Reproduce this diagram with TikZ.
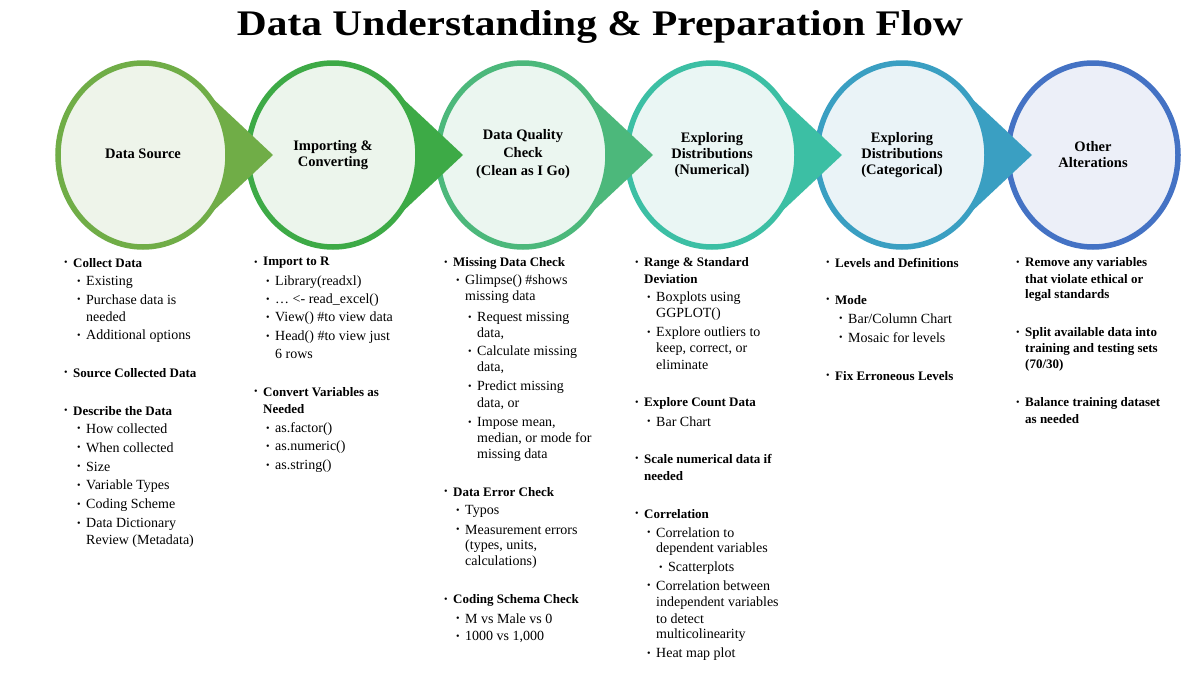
\documentclass[tikz,border=0pt]{standalone}
\usepackage{fontspec}
\setmainfont{Liberation Serif}
\definecolor{r1}{HTML}{70AD47}\definecolor{f1}{HTML}{EEF4EA}
\definecolor{r2}{HTML}{3DAA46}\definecolor{f2}{HTML}{ECF5EC}
\definecolor{r3}{HTML}{4CB87B}\definecolor{f3}{HTML}{EBF6F0}
\definecolor{r4}{HTML}{3CBFA4}\definecolor{f4}{HTML}{EAF6F4}
\definecolor{r5}{HTML}{3A9FC2}\definecolor{f5}{HTML}{EAF3F7}
\definecolor{r6}{HTML}{4472C4}\definecolor{f6}{HTML}{ECEFF8}
\newcounter{ln}
\newcommand\Bu[3]{\stepcounter{ln}\node[bul] (b\arabic{ln}) at (#1-9,#2) {•};\node[txt] (t\arabic{ln}) at (#1,#2) {#3};}
\newcommand\Cl[3]{\stepcounter{ln}\node[txt] (t\arabic{ln}) at (#1,#2) {#3};}
\newcommand\Bb[3]{\Bu{#1}{#2}{\fontsize{13}{15}\selectfont\bfseries #3}}
\newcommand\Cb[3]{\Cl{#1}{#2}{\fontsize{13}{15}\selectfont\bfseries #3}}
\newcommand\Ring[4]{\node[ring,draw=#3,fill=#4] (#1) at (#2) {};}
\newcommand\Arr[3]{\fill[#3] ($(#1)+(50,-75)$) coordinate (#2a) -- ($(#1)+(130,0)$) coordinate (#2t) -- ($(#1)+(50,75)$) coordinate (#2b) -- cycle;}
\usetikzlibrary{calc,shapes.geometric}
\begin{document}
\begin{tikzpicture}[x=1pt,y=-1pt,
  ring/.style={ellipse,minimum width=170,minimum height=184,line width=5.5pt,inner sep=0},
  txt/.style={anchor=west,font=\fontsize{14}{16}\selectfont,inner sep=0},
  bul/.style={anchor=west,font=\fontsize{10}{12}\selectfont,inner sep=0},
  head/.style={align=center,font=\fontsize{14.5}{16}\selectfont\bfseries,inner sep=0}]
\useasboundingbox (0,0) rectangle (1200,675);
\fill[white] (0,0) rectangle (1200,675);
\coordinate (p1) at (143,155);\coordinate (p2) at (333,155);\coordinate (p3) at (523,155);
\coordinate (p4) at (712,155);\coordinate (p5) at (902,155);\coordinate (p6) at (1093,155);
\node[font=\bfseries\fontsize{36}{40}\selectfont] (title) at (600,27) {\scalebox{1.15}[1]{Data Understanding \& Preparation Flow}};
\Ring{c6}{p6}{r6}{f6}
\Arr{p5}{a5}{r5}\Ring{c5}{p5}{r5}{f5}
\Arr{p4}{a4}{r4}\Ring{c4}{p4}{r4}{f4}
\Arr{p3}{a3}{r3}\Ring{c3}{p3}{r3}{f3}
\Arr{p2}{a2}{r2}\Ring{c2}{p2}{r2}{f2}
\Arr{p1}{a1}{r1}\Ring{c1}{p1}{r1}{f1}
\node[head] (h1) at (143,154) {Data Source};
\node[head] (h2) at (333,155) {Importing \&\\Converting};
\node[head,font=\fontsize{14.5}{18}\selectfont\bfseries] (h3) at (523,154) {Data Quality\\Check\\(Clean as I Go)};
\node[head] (h4) at (712,155) {Exploring\\Distributions\\(Numerical)};
\node[head] (h5) at (902,155) {Exploring\\Distributions\\(Categorical)};
\node[head] (h6) at (1093,155) {Other\\Alterations};
% column 1
\Bb{73}{263}{Collect Data}
\Bu{86}{282}{Existing}
\Bu{86}{300}{Purchase data is}\Cl{86}{317}{needed}
\Bu{86}{336}{Additional options}
\Bb{73}{373}{Source Collected Data}
\Bb{73}{411}{Describe the Data}
\Bu{86}{429}{How collected}
\Bu{86}{448}{When collected}
\Bu{86}{467}{Size}
\Bu{86}{486}{Variable Types}
\Bu{86}{505}{Coding Scheme}
\Bu{86}{524}{Data Dictionary}\Cl{86}{541}{Review (Metadata)}
% column 2
\Bb{263}{263}{Import to R}
\Bu{275}{282}{Library(readxl)}
\Bu{275}{300}{… <- read\_excel()}
\Bu{275}{318}{View() \#to view data}
\Bu{275}{337}{Head() \#to view just}\Cl{275}{354}{6 rows}
\Bb{263}{392}{Convert Variables as}\Cb{263}{409}{Needed}
\Bu{275}{429}{as.factor()}
\Bu{275}{447}{as.numeric()}
\Bu{275}{466}{as.string()}
% column 3
\Bb{453}{263}{Missing Data Check}
\Bu{465}{281}{Glimpse() \#shows}\Cl{465}{297}{missing data}
\Bu{477}{318}{Request missing}\Cl{477}{334}{data,}
\Bu{477}{352}{Calculate missing}\Cl{477}{368}{data,}
\Bu{477}{387}{Predict missing}\Cl{477}{404}{data, or}
\Bu{477}{423}{Impose mean,}\Cl{477}{439}{median, or mode for}\Cl{477}{455}{missing data}
\Bb{453}{492}{Data Error Check}
\Bu{465}{511}{Typos}
\Bu{465}{530}{Measurement errors}\Cl{465}{546}{(types, units,}\Cl{465}{562}{calculations)}
\Bb{453}{600}{Coding Schema Check}
\Bu{465}{619}{M vs Male vs 0}
\Bu{465}{637}{1000 vs 1,000}
% column 4
\Bb{644}{263}{Range \& Standard}\Cb{644}{279}{Deviation}
\Bu{656}{298}{Boxplots using}\Cl{656}{314}{GGPLOT()}
\Bu{656}{333}{Explore outliers to}\Cl{656}{349}{keep, correct, or}\Cl{656}{365}{eliminate}
\Bb{644}{403}{Explore Count Data}
\Bu{656}{422}{Bar Chart}
\Bb{644}{459}{Scale numerical data if}\Cb{644}{476}{needed}
\Bb{644}{514}{Correlation}
\Bu{656}{533}{Correlation to}\Cl{656}{549}{dependent variables}
\Bu{668}{568}{Scatterplots}
\Bu{656}{586}{Correlation between}\Cl{656}{603}{independent variables}\Cl{656}{619}{to detect}\Cl{656}{635}{multicolinearity}
\Bu{656}{654}{Heat map plot}
% column 5
\Bb{835}{263}{Levels and Definitions}
\Bb{835}{300}{Mode}
\Bu{848}{319}{Bar/Column Chart}
\Bu{848}{338}{Mosaic for levels}
\Bb{835}{376}{Fix Erroneous Levels}
% column 6
\Bb{1025}{263}{Remove any variables}\Cb{1025}{279}{that violate ethical or}\Cb{1025}{295}{legal standards}
\Bb{1025}{333}{Split available data into}\Cb{1025}{349}{training and testing sets}\Cb{1025}{365}{(70/30)}
\Bb{1025}{403}{Balance training dataset}\Cb{1025}{419}{as needed}
\end{tikzpicture}
\end{document}
